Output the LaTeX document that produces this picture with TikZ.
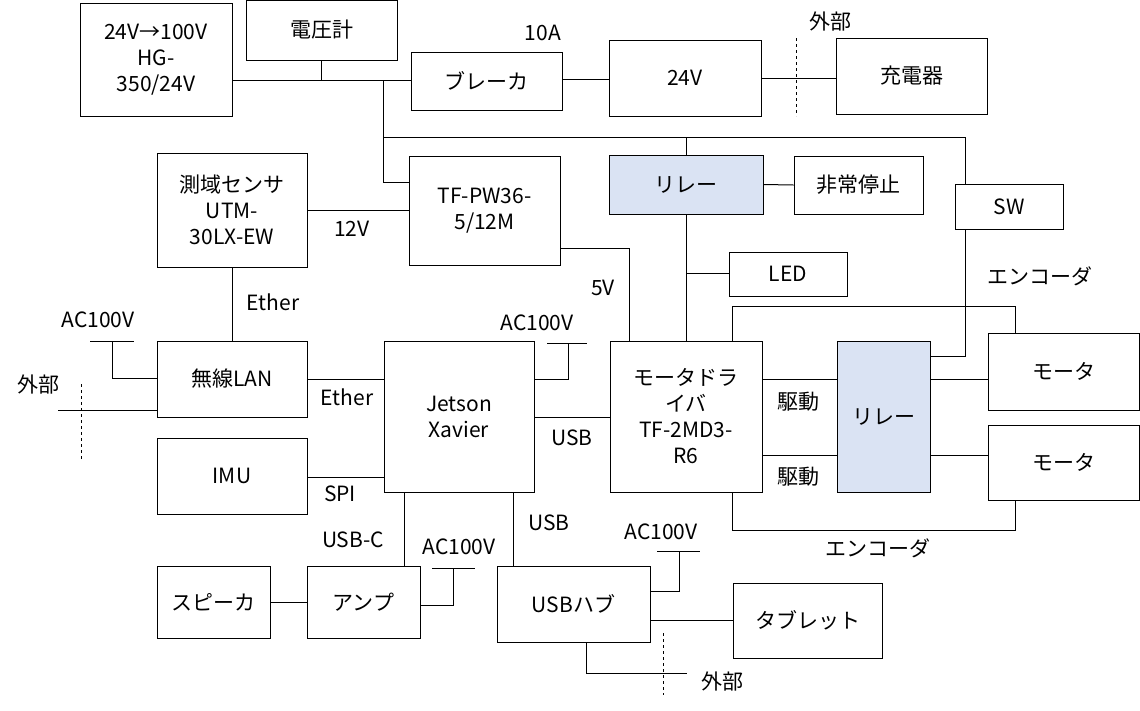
\documentclass[tikz,border=0pt]{standalone}
\usepackage{fontspec}
\setmainfont{Noto Sans CJK JP}
\definecolor{relayfill}{RGB}{218,227,243}
\begin{document}
\begin{tikzpicture}[x=1pt,y=-1pt,line width=1pt,
  box/.style={draw,inner sep=0pt,align=center,font=\fontsize{21}{26}\selectfont},
  bluebox/.style={fill=relayfill},
  lbl/.style={font=\fontsize{21}{25}\selectfont,inner sep=0pt},
  extdash/.style={dashed,line width=0.8pt}]
\useasboundingbox (0,0) rectangle (1140,710);
\newcommand\bx[7][]{\node[box,#1,minimum width={#5-#3},minimum height={#6-#4}] (#2) at ({(#3+#5)/2},{(#4+#6)/2}) {#7};}
\bx{hg}{80}{3}{232}{116}{24V→100V\\HG-\\350/24V}
\bx{vm}{246}{0}{397}{60}{電圧計}
\bx{brk}{411}{52}{562}{110}{ブレーカ}
\bx{bat}{609}{40}{761}{116}{24V}
\bx{chg}{836}{38}{987}{114}{充電器}
\bx{lrf}{157}{153}{307}{267}{測域センサ\\UTM-\\30LX-EW}
\bx{pw}{409}{156}{560}{265}{TF-PW36-\\5/12M}
\bx[bluebox]{rl1}{609}{155}{763}{214}{リレー}
\bx{es}{794}{156}{923}{214}{非常停止}
\bx{sw}{955}{184}{1063}{229}{SW}
\bx{led}{729}{252}{847}{296}{LED}
\bx{lan}{157}{341}{307}{417}{無線LAN}
\bx{jx}{384}{341}{534}{492}{Jetson\\Xavier}
\bx{md}{610}{341}{762}{492}{モータドラ\\イバ\\TF-2MD3-\\R6}
\bx[bluebox]{rl2}{837}{341}{930}{492}{リレー}
\bx{m1}{988}{333}{1139}{410}{モータ}
\bx{m2}{988}{425}{1139}{500}{モータ}
\bx{imu}{157}{438}{307}{514}{IMU}
\bx{spk}{157}{566}{270}{638}{スピーカ}
\bx{amp}{307}{566}{420}{638}{アンプ}
\bx{hub}{497}{566}{650}{642}{USBハブ}
\bx{tab}{733}{583}{882}{658}{タブレット}
% top power
\draw (hg.east |- 0,80) -- (brk.west |- 0,80);
\draw (vm.south) -- (vm.south |- 0,80);
\draw (383,80) -- (383,182) -- (pw.west |- 0,182);
\draw (383,137) -- (965,137) -- (965,0 |- sw.north);
\draw (rl1.north |- 0,137) -- (rl1.north);
\draw (brk.east |- 0,79) -- (bat.west |- 0,79);
\draw (bat.east |- 0,78) -- (chg.west |- 0,78);
\draw[extdash] (796,38) -- (796,116);
\node[lbl] at (830,22) {外部};
\node[lbl] at (543,33) {10A};
\draw (lrf.east |- 0,210) -- (pw.west |- 0,210);
\node[lbl] at (352,229) {12V};
\draw (pw.east |- 0,248) -- (629,248) -- (629,0 |- md.north);
\node[lbl] at (603,288) {5V};
\draw (rl1.east) -- (es.west);
\draw (rl1.south) -- (rl1.south |- md.north);
\draw (686,273) -- (led.west |- 0,273);
\draw (965,0 |- sw.south) -- (965,356) -- (rl2.east |- 0,356);
\draw (732,0 |- md.north) -- (732,306) -- (1015,306) -- (1015,0 |- m1.north);
\node[lbl] at (1040,276) {エンコーダ};
\draw (md.east |- 0,379) -- (rl2.west |- 0,379);
\draw (md.east |- 0,455) -- (rl2.west |- 0,455);
\node[lbl] at (798,402) {駆動};
\node[lbl] at (798,477) {駆動};
\draw (rl2.east |- 0,379) -- (m1.west |- 0,379);
\draw (rl2.east |- 0,455) -- (m2.west |- 0,455);
\draw (732,0 |- md.south) -- (732,530) -- (1015,530) -- (1015,0 |- m2.south);
\node[lbl] at (878,548) {エンコーダ};
% left side
\draw (lrf.south) -- (lrf.south |- lan.north);
\node[lbl] at (273,302) {Ether};
\draw (90,341) -- (134,341);
\draw (112,341) -- (112,378) -- (lan.west |- 0,378);
\node[lbl] at (98,320) {AC100V};
\draw (58,410) -- (lan.west |- 0,410);
\draw[extdash] (81,384) -- (81,460);
\node[lbl] at (38,385) {外部};
\draw (lan.east |- 0,379) -- (jx.west |- 0,379);
\node[lbl] at (347,397) {Ether};
\draw (jx.east |- 0,379) -- (568,379) -- (568,343);
\draw (547,343) -- (587,343);
\node[lbl] at (537,323) {AC100V};
\draw (jx.east |- 0,417) -- (md.west |- 0,417);
\node[lbl] at (572,438) {USB};
\draw (imu.east |- 0,477) -- (jx.west |- 0,477);
\node[lbl] at (340,494) {SPI};
\draw (404,0 |- jx.south) -- (404,0 |- amp.north);
\node[lbl] at (353,540) {USB-C};
\draw (513,0 |- jx.south) -- (513,0 |- hub.north);
\node[lbl] at (549,523) {USB};
\draw (amp.east |- 0,605) -- (453,605) -- (453,568);
\draw (432,568) -- (475,568);
\node[lbl] at (459,547) {AC100V};
\draw (spk.east |- 0,602) -- (amp.west |- 0,602);
\draw (hub.east |- 0,591) -- (679,591) -- (679,551);
\draw (657,551) -- (700,551);
\node[lbl] at (661,532) {AC100V};
\draw (hub.east |- 0,620) -- (tab.west |- 0,620);
\draw (586,0 |- hub.south) -- (586,673) -- (687,673);
\draw[extdash] (663,633) -- (663,695);
\node[lbl] at (722,682) {外部};
\end{tikzpicture}
\end{document}
